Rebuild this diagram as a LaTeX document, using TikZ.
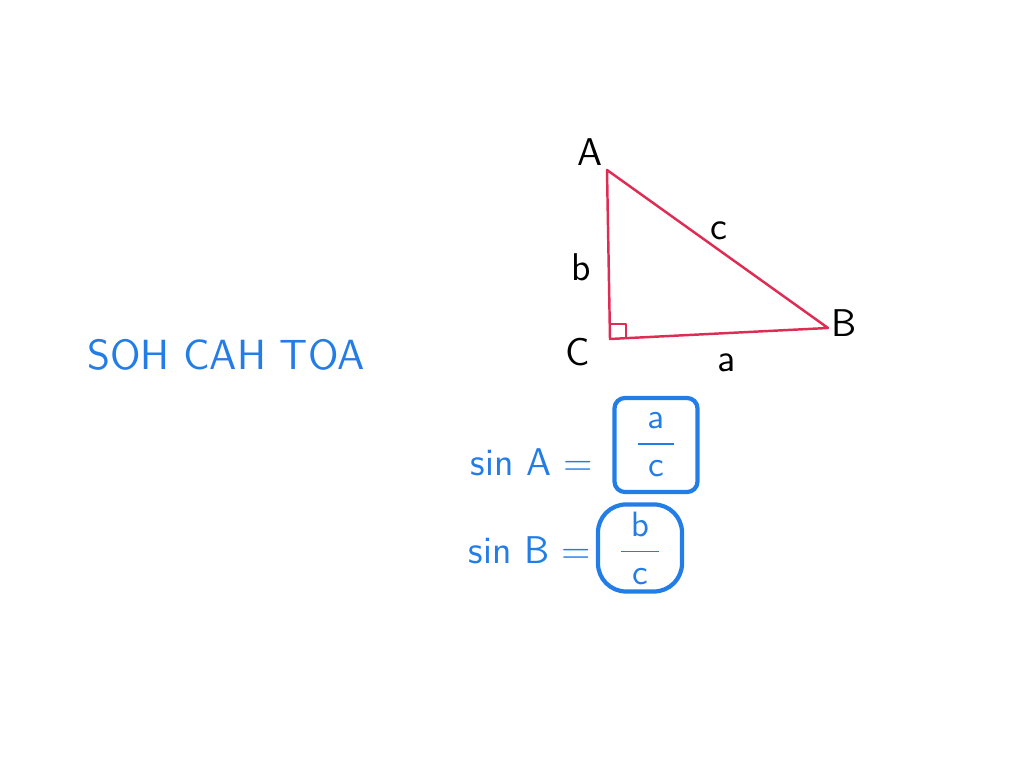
\documentclass[tikz,border=0pt]{standalone}
\definecolor{trired}{RGB}{222,45,85}
\definecolor{inkblue}{RGB}{35,125,230}
\begin{document}
\begin{tikzpicture}[
        x=0.01cm, y=-0.01cm,
        side/.style={draw=trired, line width=0.7pt, line join=round},
        vertex/.style={font=\sffamily\fontsize{11}{13}\selectfont, inner sep=0pt},
        hand/.style={font=\sffamily\fontsize{11}{13}\selectfont, text=inkblue, inner sep=0pt},
        answer/.style={draw=inkblue, line width=1.2pt, rounded corners=3pt,
            minimum width=0.83cm, minimum height=0.94cm, text=inkblue, inner sep=0pt,
            font=\fontsize{10}{12}\selectfont}
    ]
    \useasboundingbox (0,0) rectangle (1024,768);

    \coordinate (A) at (607,170);
    \coordinate (C) at (610,339);
    \coordinate (B) at (828,328);
    \draw [side] (A) -- (B) -- (C) -- cycle;
    \draw [side] ([yshift=0.15cm]C) -- ([xshift=0.16cm,yshift=0.15cm]C) -- ([xshift=0.16cm]C);

    \node [vertex] (labA) at (590,152) {A};
    \node [vertex] (labB) at (844,323) {B};
    \node [vertex] (labC) at (578,352) {C};
    \node [vertex] (sidea) at (727,363) {a};
    \node [vertex] (sideb) at (581,267) {b};
    \node [vertex] (sidec) at (719,231) {c};

    \node [hand, font=\sffamily\fontsize{12}{14}\selectfont] (soh) at (226,355) {SOH CAH TOA};

    \node [hand] (sinA) at (532,462) {sin A =};
    \node [answer] (fracA) at (656,445) {$\displaystyle\frac{\;\mathsf{a}\;}{\;\mathsf{c}\;}$};
    \node [hand] (sinB) at (530,550) {sin B =};
    \node [answer, rounded corners=8pt, minimum width=0.84cm, minimum height=0.87cm]
        (fracB) at (640,548) {$\displaystyle\frac{\;\mathsf{b}\;}{\;\mathsf{c}\;}$};
\end{tikzpicture}
\end{document}
